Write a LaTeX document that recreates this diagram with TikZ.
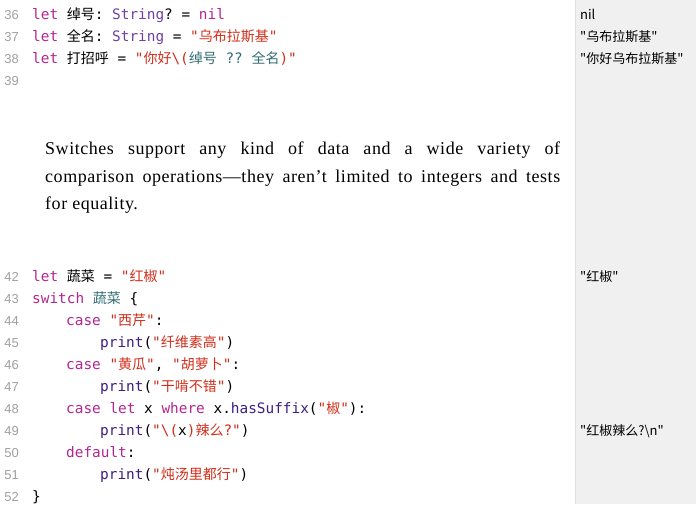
\documentclass[tikz,border=0pt]{standalone}
\usepackage{fontspec}
\setmainfont{Liberation Serif}
\setmonofont{DejaVu Sans Mono}
\setsansfont{Liberation Sans}
\newfontfamily\zhf{Noto Sans CJK SC}
\newfontfamily\prosef[LetterSpace=3]{Liberation Serif}
\newcommand\zh[1]{{\zhf\fontsize{14pt}{14pt}\selectfont #1}}
\definecolor{kw}{HTML}{B4268F}
\definecolor{ty}{HTML}{6F41A7}
\definecolor{st}{HTML}{D12F1B}
\definecolor{fn}{HTML}{3E1E81}
\definecolor{idc}{HTML}{316E74}
\definecolor{ln}{HTML}{A0A0A0}
\definecolor{panel}{HTML}{F0F0F0}
\tikzset{
 code/.style={anchor=base west,inner sep=0pt,font=\ttfamily\fontsize{14.4pt}{16pt}\selectfont},
 lnum/.style={anchor=base east,inner sep=0pt,text=ln,font=\sffamily\fontsize{13pt}{15pt}\selectfont},
 res/.style={anchor=base west,inner sep=0pt,font=\zhf\fontsize{13pt}{15pt}\selectfont},
}
\begin{document}
\begin{tikzpicture}[x=1pt,y=-1pt]
\useasboundingbox (0,0) rectangle (696,504);
\fill[white] (0,0) rectangle (696,504);
\fill[panel] (575,0) rectangle (696,504);
\draw[black!12] (575,0) -- (575,504);
% line numbers
\foreach \n/\y in {36/19,37/41,38/63,39/85,42/281,43/303,44/325,45/347,46/369,47/391,48/413,49/435,50/457,51/479,52/501}
  \node[lnum] (l\n) at (19,\y) {\n};
% code
\node[code] (c36) at (32,19) {\textcolor{kw}{let} \zh{绰号}: \textcolor{ty}{String}? = \textcolor{kw}{nil}};
\node[code] (c37) at (32,41) {\textcolor{kw}{let} \zh{全名}: \textcolor{ty}{String} = \textcolor{st}{"\zh{乌布拉斯基}"}};
\node[code] (c38) at (32,63) {\textcolor{kw}{let} \zh{打招呼} = \textcolor{st}{"\zh{你好}\textbackslash(}\textcolor{idc}{\zh{绰号} ?? \zh{全名}}\textcolor{st}{)"}};
\node[anchor=north west,inner sep=0pt,text width=515pt,align=justify,font=\prosef\fontsize{18pt}{27.5pt}\selectfont] (prose) at (45,142)
 {Switches support any kind of data and a wide variety of\linebreak comparison operations—they aren’t limited to integers and tests\linebreak for equality.};
\node[code] (c42) at (32,281) {\textcolor{kw}{let} \zh{蔬菜} = \textcolor{st}{"\zh{红椒}"}};
\node[code] (c43) at (32,303) {\textcolor{kw}{switch} \textcolor{idc}{\zh{蔬菜}} \{};
\node[code] (c44) at (66,325) {\textcolor{kw}{case} \textcolor{st}{"\zh{西芹}"}:};
\node[code] (c45) at (100,347) {\textcolor{fn}{print}(\textcolor{st}{"\zh{纤维素高}"})};
\node[code] (c46) at (66,369) {\textcolor{kw}{case} \textcolor{st}{"\zh{黄瓜}"}, \textcolor{st}{"\zh{胡萝卜}"}:};
\node[code] (c47) at (100,391) {\textcolor{fn}{print}(\textcolor{st}{"\zh{干啃不错}"})};
\node[code] (c48) at (66,413) {\textcolor{kw}{case let} x \textcolor{kw}{where} x.\textcolor{fn}{hasSuffix}(\textcolor{st}{"\zh{椒}"}):};
\node[code] (c49) at (100,435) {\textcolor{fn}{print}(\textcolor{st}{"\textbackslash(}x\textcolor{st}{)\zh{辣么}?"})};
\node[code] (c50) at (66,457) {\textcolor{kw}{default}:};
\node[code] (c51) at (100,479) {\textcolor{fn}{print}(\textcolor{st}{"\zh{炖汤里都行}"})};
\node[code] (c52) at (32,501) {\}};
% results
\node[res] (r36) at (580,19) {nil};
\node[res] (r37) at (580,41) {"乌布拉斯基"};
\node[res] (r38) at (580,63) {"你好乌布拉斯基"};
\node[res] (r42) at (580,281) {"红椒"};
\node[res] (r49) at (580,435) {"红椒辣么?\textbackslash n"};
\end{tikzpicture}
\end{document}
